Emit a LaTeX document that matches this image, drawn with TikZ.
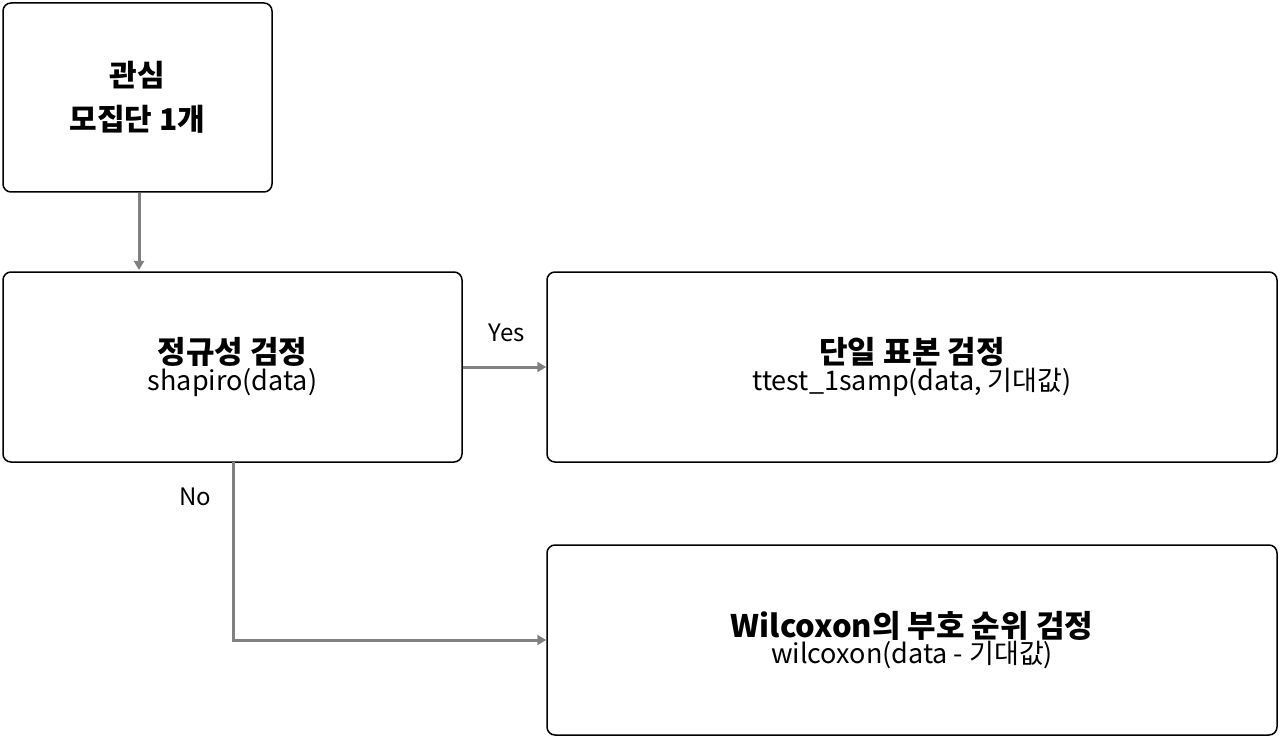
\documentclass[tikz,border=0pt]{standalone}
\usepackage{fontspec}
\setmainfont{Noto Sans CJK KR}
\usetikzlibrary{arrows.meta}
\begin{document}
\begin{tikzpicture}[x=1pt,y=-1pt,
  box/.style={draw=black,line width=1.5pt,rounded corners=8pt},
  conn/.style={draw=black!50,line width=3pt,-{Triangle[length=9pt,width=10pt]}},
  lbl/.style={font=\fontsize{24}{28}\selectfont}]
\useasboundingbox (0,0) rectangle (1280,738);
\node[box,minimum width=269pt,minimum height=189pt,align=center,font=\fontsize{30}{44}\selectfont\bfseries] (a) at (137.5,97.5) {관심\\모집단 1개};
\node[box,minimum width=459pt,minimum height=190pt,align=center] (b) at (232.5,367) {{\fontsize{31}{44}\selectfont\bfseries 정규성 검정}\\{\fontsize{27}{36}\selectfont shapiro(data)}};
\node[box,minimum width=730pt,minimum height=190pt,align=center] (c) at (912,367) {{\fontsize{31}{44}\selectfont\bfseries 단일 표본 검정}\\{\fontsize{27}{36}\selectfont ttest\_1samp(data, 기대값)}};
\node[box,minimum width=730pt,minimum height=190pt,align=center] (d) at (912,640) {{\fontsize{31}{44}\selectfont\bfseries Wilcoxon의 부호 순위 검정}\\{\fontsize{27}{36}\selectfont wilcoxon(data - 기대값)}};
\coordinate (bd) at (233,462);
\coordinate (corner) at (233,640);
\draw[conn] (139,193) -- (139,270);
\draw[conn] (b.east) -- (c.west);
\draw[conn] (bd) -- (corner) -- (d.west);
\node[lbl] (yes) at (507,333) {Yes};
\node[lbl] (no) at (195,497) {No};
\end{tikzpicture}
\end{document}
